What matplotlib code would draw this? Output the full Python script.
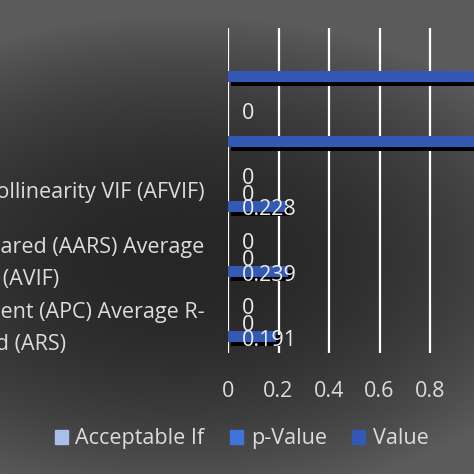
import numpy as np
import matplotlib.pyplot as plt
import matplotlib.patheffects as pe
from matplotlib.patches import Patch

# Data (categories top to bottom)
categories = ['', '',
              'Average full collinearity VIF (AFVIF)',
              'Average Adjusted R-squared (AARS) Average\nblock VIF (AVIF)',
              'Average Path Coefficient (APC) Average R-\nsquared (ARS)']
acceptable_if = [np.nan, 0, 0, 0, 0]
p_value = [np.nan, np.nan, 0, 0, 0]
value = [1.5, 1.4, 0.228, 0.239, 0.191]
series_names = ['Acceptable If', 'p-Value', 'Value']
x_ticks = [0, 0.2, 0.4, 0.6, 0.8]

colors = ['#a9bee8', '#3f73da', '#3359b5']
text_col = '#dcdcdc'
fs = 15.5
plt.rcParams['font.family'] = ['Open Sans', 'DejaVu Sans']

W, H = 474, 474
fig = plt.figure(figsize=(W / 100, H / 100), dpi=100)

# dark radial background
bg = fig.add_axes([0, 0, 1, 1])
yy, xx = np.mgrid[0:H, 0:W]
d = np.sqrt(((xx - 180) / 420.0) ** 2 + ((yy - 258) / 245.0) ** 2)
d = np.clip(d, 0, 1) ** 2
grey = (38 + 54 * d) / 255.0
bg.imshow(np.dstack([grey, grey, grey]), aspect='auto', extent=[0, 1, 0, 1])
bg.axis('off')

# main axes runs past the right edge, like the cropped original
ax = fig.add_axes([228 / W, 1 - 353 / H, 1.2 * 252.5 / W, 325.5 / H])
ax.set_facecolor('none')
y = np.arange(len(categories))
offsets = [-0.23, 0.02, 0.25]
bar_h = 0.17

shadow = [pe.SimplePatchShadow(offset=(2.5, -3), shadow_rgbFace='black', alpha=1), pe.Normal()]
for vals, col, off in zip([acceptable_if, p_value, value], colors, offsets):
    vals = np.asarray(vals, dtype=float)
    bars = ax.barh(y + off, np.nan_to_num(vals), height=bar_h, color=col, zorder=3)
    for b in bars:
        b.set_path_effects(shadow)
    for yi, v in zip(y + off, vals):
        if np.isnan(v) or v > 1:
            continue
        ax.annotate(f'{v:g}', xy=(0, yi), xytext=(10, -2.5), textcoords='offset points',
                    ha='left', va='center', color='#ececec', fontsize=fs, zorder=5)

ax.set_xlim(0, 1.2)
ax.set_ylim(len(categories) - 0.5, -0.5)
ax.set_xticks(x_ticks)
ax.set_xticklabels([f'{t:g}' for t in x_ticks])
ax.set_yticks(y)
ax.set_yticklabels(categories)
for lbl in ax.get_yticklabels():
    lbl.set_multialignment('center')
    lbl.set_linespacing(1.7)
ax.tick_params(axis='x', length=0, pad=20, labelsize=fs, labelcolor=text_col)
ax.tick_params(axis='y', length=0, pad=17, labelsize=fs, labelcolor=text_col)
ax.xaxis.grid(True, color='white', linewidth=1.6)
ax.set_axisbelow(True)
for s in ax.spines.values():
    s.set_visible(False)

handles = [Patch(color=c) for c in colors]
fig.legend(handles, series_names, loc='center', bbox_to_anchor=(0.51, 0.074), ncol=3,
           frameon=False, fontsize=fs, labelcolor=text_col, handlelength=0.6,
           handleheight=0.6, handletextpad=0.35, columnspacing=1.2)

fig.savefig('out.png', dpi=100)
